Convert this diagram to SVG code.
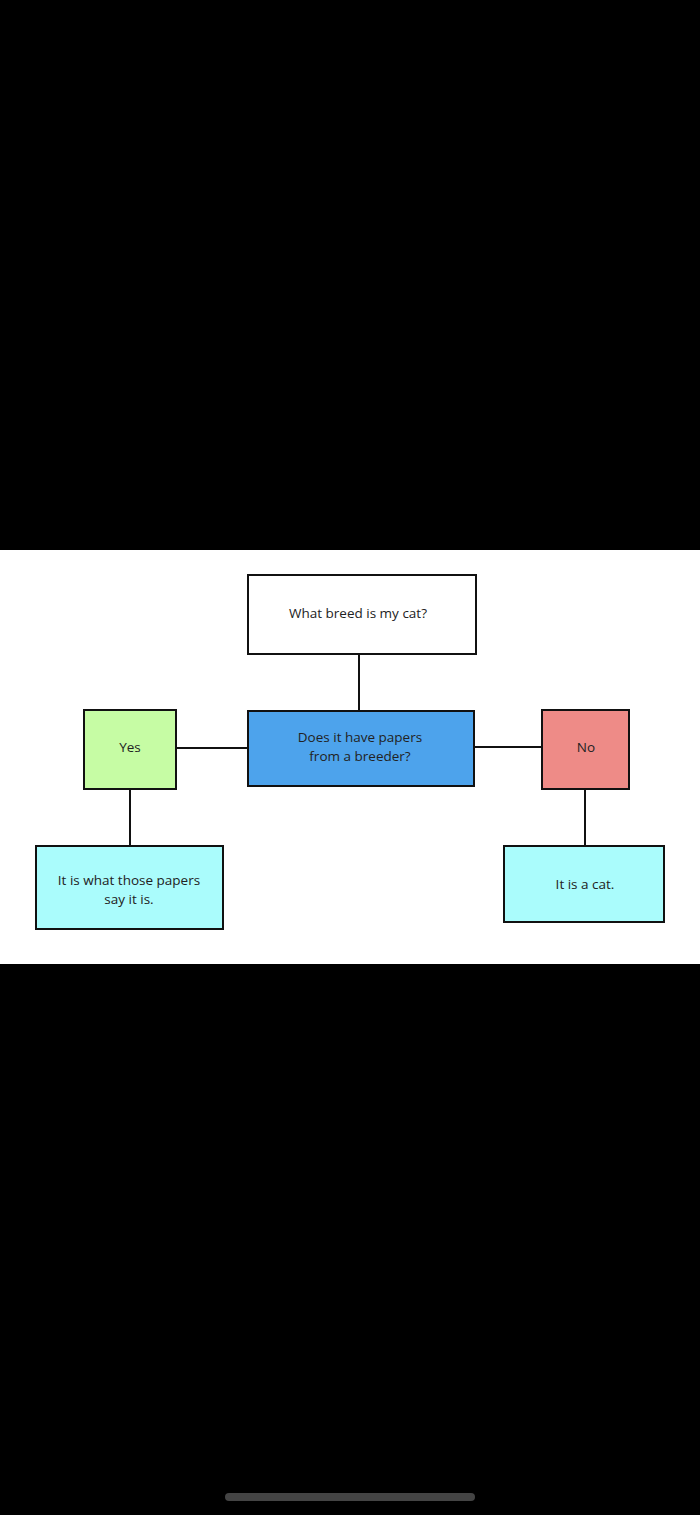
<svg xmlns="http://www.w3.org/2000/svg" width="700" height="1515" viewBox="0 0 700 1515">
<style>
.box{stroke:#111;stroke-width:2}
.t{font-family:"Open Sans","Noto Sans","Liberation Sans",sans-serif;font-size:13.5px;fill:#222;text-anchor:middle}
.c{stroke:#111;stroke-width:2;fill:none}
</style>
<rect x="0" y="0" width="700" height="1515" fill="#000"/>
<rect x="0" y="550" width="700" height="414" fill="#fff"/>
<g id="connectors">
<line class="c" x1="359" y1="654" x2="359" y2="711"/>
<line class="c" x1="176" y1="748" x2="248" y2="748"/>
<line class="c" x1="474" y1="747" x2="542" y2="747"/>
<line class="c" x1="130" y1="789" x2="130" y2="846"/>
<line class="c" x1="585" y1="789" x2="585" y2="846"/>
</g>
<g id="question">
<rect class="box" x="248" y="575" width="228" height="79" fill="#fff"/>
<text class="t" x="358" y="618">What breed is my cat?</text>
</g>
<g id="papers">
<rect class="box" x="248" y="711" width="226" height="75" fill="#4da3ec"/>
<text class="t" x="360" y="742">Does it have papers</text>
<text class="t" x="360" y="761">from a breeder?</text>
</g>
<g id="yes">
<rect class="box" x="84" y="710" width="92" height="79" fill="#c6fca4"/>
<text class="t" x="130" y="752">Yes</text>
</g>
<g id="no">
<rect class="box" x="542" y="710" width="87" height="79" fill="#ee8b87"/>
<text class="t" x="586" y="752">No</text>
</g>
<g id="yes-result">
<rect class="box" x="36" y="846" width="187" height="83" fill="#aafcfc"/>
<text class="t" x="129" y="885">It is what those papers</text>
<text class="t" x="129" y="904">say it is.</text>
</g>
<g id="no-result">
<rect class="box" x="504" y="846" width="160" height="76" fill="#aafcfc"/>
<text class="t" x="585" y="889">It is a cat.</text>
</g>
<rect x="225" y="1493" width="250" height="8" rx="4" fill="#444"/>
</svg>
